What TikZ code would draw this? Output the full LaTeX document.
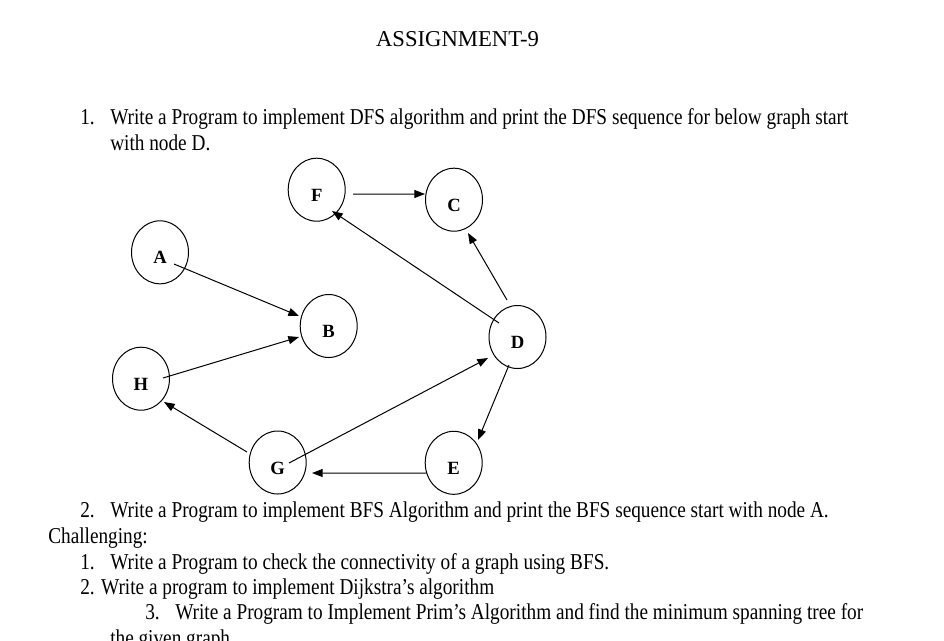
\documentclass[tikz,border=0pt]{standalone}
\usepackage{fontspec}
\setmainfont[FakeStretch=0.85]{Liberation Serif}
\newfontfamily\lblfont{Liberation Serif}
\usetikzlibrary{shapes.geometric,arrows.meta,calc}
\tikzset{
  vtx/.style={draw,ellipse,line width=0.75pt,inner sep=0pt,minimum width=42.75pt,minimum height=47.25pt,
    font=\lblfont\fontsize{14}{14}\selectfont\bfseries,text height=17.5pt,text depth=0pt},
  arr/.style={line width=0.75pt,-{Triangle[length=8pt,width=6pt]}},
  txt/.style={anchor=base west,inner sep=0pt,font=\fontsize{17}{20}\selectfont}
}
\begin{document}
\begin{tikzpicture}[x=0.75pt,y=-0.75pt]
\useasboundingbox (0,0) rectangle (944,640);
\clip (0,0) rectangle (944,640);
\fill[white] (0,0) rectangle (944,640);
% title and text
\node[txt,anchor=base,font=\lblfont\fontsize{17}{20}\selectfont] (title) at (457.5,46) {ASSIGNMENT-9};
\node[txt] (n1) at (80,124.5) {1.};
\node[txt] (q1a) at (110,124.5) {Write a Program to implement DFS algorithm and print the DFS sequence for below graph start};
\node[txt] (q1b) at (110,150.5) {with node D.};
\node[txt] (n2) at (80,517.5) {2.};
\node[txt] (q2) at (110,517.5) {Write a Program to implement BFS Algorithm and print the BFS sequence start with node A.};
\node[txt] (ch) at (48,543.5) {Challenging:};
\node[txt] (c1n) at (80,569.5) {1.};
\node[txt] (c1) at (110,569.5) {Write a Program to check the connectivity of a graph using BFS.};
\node[txt] (c2) at (80,594.5) {2. Write a program to implement Dijkstra’s algorithm};
\node[txt] (c3n) at (145,619.5) {3.};
\node[txt] (c3) at (175,619.5) {Write a Program to Implement Prim’s Algorithm and find the minimum spanning tree for};
\node[txt] (c3b) at (110,645.5) {the given graph.};
% graph nodes
\node[vtx] (F) at (316.7,189.7) {F};
\node[vtx] (C) at (454,199.7) {C};
\node[vtx] (A) at (160,252.3) {A};
\node[vtx] (B) at (328.7,326) {B};
\node[vtx] (D) at (517.5,337) {D};
\node[vtx] (H) at (141,378.7) {H};
\node[vtx] (G) at (277.7,462.5) {G};
\node[vtx] (E) at (453.7,462.8) {E};
% edges
\draw[arr] ($(A)+(14,11.7)$) -- ($(B)+(-29.7,-10)$);
\draw[arr] ($(H)+(22,-0.7)$) -- ($(B)+(-29.7,11)$);
\draw[arr] ($(G)+(-30.7,-10.5)$) -- ($(H)+(23,23.3)$);
\draw[arr] ($(G)+(11.3,0.5)$) -- ($(D)+(-29.5,21)$);
\draw[arr] ($(E)+(-27.7,10.2)$) -- ($(G)+(34.3,10.5)$);
\draw[arr] ($(D)+(-8.5,28)$) -- ($(E)+(24.3,-22.8)$);
\draw[arr] ($(D)+(-10.5,-37)$) -- ($(C)+(14,33.3)$);
\draw[arr] ($(D)+(-18.5,-14)$) -- ($(F)+(15.3,21.3)$);
\draw[arr] ($(F)+(36.3,4.3)$) -- ($(C)+(-29,-5.7)$);
\end{tikzpicture}
\end{document}
